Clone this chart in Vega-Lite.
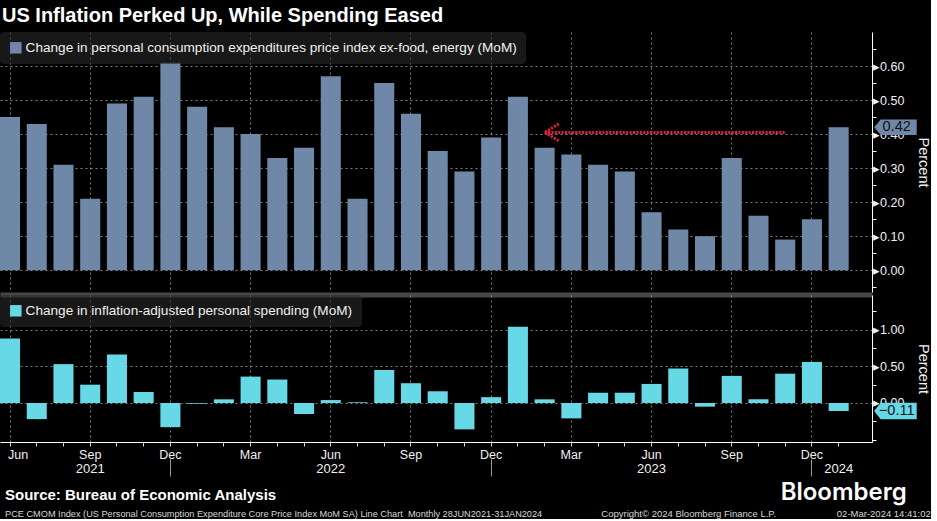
{
  "$schema": "https://vega.github.io/schema/vega-lite/v6.json",
  "background": "#000000",
  "padding": {"top": 6, "left": 0, "right": 0, "bottom": 0},
  "spacing": 0,
  "config": {
    "font": "Liberation Sans",
    "view": {"stroke": null},
    "axis": {"labelFont": "Liberation Sans", "titleFont": "Liberation Sans"},
    "legend": {
      "orient": "top-left",
      "offset": 0,
      "padding": 9,
      "fillColor": "rgba(40,40,40,0.6)",
      "cornerRadius": 4,
      "symbolType": "square",
      "symbolSize": 132,
      "symbolStrokeWidth": 0,
      "labelFont": "Liberation Sans",
      "labelFontSize": 13.6,
      "labelColor": "#f0f0f0",
      "labelLimit": 0,
      "labelOffset": 3
    }
  },
  "datasets": {
    "pce": [
      {"month": "2021-06", "value": 0.45},
      {"month": "2021-07", "value": 0.43},
      {"month": "2021-08", "value": 0.31},
      {"month": "2021-09", "value": 0.21},
      {"month": "2021-10", "value": 0.49},
      {"month": "2021-11", "value": 0.51},
      {"month": "2021-12", "value": 0.61},
      {"month": "2022-01", "value": 0.48},
      {"month": "2022-02", "value": 0.42},
      {"month": "2022-03", "value": 0.40},
      {"month": "2022-04", "value": 0.33},
      {"month": "2022-05", "value": 0.36},
      {"month": "2022-06", "value": 0.57},
      {"month": "2022-07", "value": 0.21},
      {"month": "2022-08", "value": 0.55},
      {"month": "2022-09", "value": 0.46},
      {"month": "2022-10", "value": 0.35},
      {"month": "2022-11", "value": 0.29},
      {"month": "2022-12", "value": 0.39},
      {"month": "2023-01", "value": 0.51},
      {"month": "2023-02", "value": 0.36},
      {"month": "2023-03", "value": 0.34},
      {"month": "2023-04", "value": 0.31},
      {"month": "2023-05", "value": 0.29},
      {"month": "2023-06", "value": 0.17},
      {"month": "2023-07", "value": 0.12},
      {"month": "2023-08", "value": 0.10},
      {"month": "2023-09", "value": 0.33},
      {"month": "2023-10", "value": 0.16},
      {"month": "2023-11", "value": 0.09},
      {"month": "2023-12", "value": 0.15},
      {"month": "2024-01", "value": 0.42}
    ],
    "spend": [
      {"month": "2021-06", "value": 0.88},
      {"month": "2021-07", "value": -0.22},
      {"month": "2021-08", "value": 0.53},
      {"month": "2021-09", "value": 0.25},
      {"month": "2021-10", "value": 0.66},
      {"month": "2021-11", "value": 0.15},
      {"month": "2021-12", "value": -0.33},
      {"month": "2022-01", "value": -0.01},
      {"month": "2022-02", "value": 0.05},
      {"month": "2022-03", "value": 0.36},
      {"month": "2022-04", "value": 0.32},
      {"month": "2022-05", "value": -0.15},
      {"month": "2022-06", "value": 0.04},
      {"month": "2022-07", "value": 0.01},
      {"month": "2022-08", "value": 0.45},
      {"month": "2022-09", "value": 0.27},
      {"month": "2022-10", "value": 0.16},
      {"month": "2022-11", "value": -0.36},
      {"month": "2022-12", "value": 0.08},
      {"month": "2023-01", "value": 1.04},
      {"month": "2023-02", "value": 0.05},
      {"month": "2023-03", "value": -0.21},
      {"month": "2023-04", "value": 0.14},
      {"month": "2023-05", "value": 0.14},
      {"month": "2023-06", "value": 0.26},
      {"month": "2023-07", "value": 0.47},
      {"month": "2023-08", "value": -0.05},
      {"month": "2023-09", "value": 0.37},
      {"month": "2023-10", "value": 0.05},
      {"month": "2023-11", "value": 0.40},
      {"month": "2023-12", "value": 0.56},
      {"month": "2024-01", "value": -0.11}
    ],
    "pointer": [
      {"from": "2023-02", "to": "2023-11", "level": 0.405}
    ]
  },
  "title": {
    "text": "Bloomberg\u00a0\u2800",
    "subtitle": "Copyright\u00a9 2024 Bloomberg Finance L.P.\u00a0\u00a0\u00a0\u00a0\u00a0\u00a0\u00a0\u00a0\u00a0\u00a0\u00a0\u00a0\u00a0\u00a0\u00a0\u00a0\u00a0\u00a0\u00a0\u00a0\u00a0\u00a0\u00a002-Mar-2024 14:41:02",
    "orient": "bottom",
    "anchor": "end",
    "frame": "bounds",
    "offset": -38,
    "font": "Inter",
    "fontSize": 24,
    "fontWeight": 600,
    "color": "#ffffff",
    "subtitleFont": "Liberation Sans",
    "subtitleFontSize": 9.5,
    "subtitleColor": "#d8d8d8",
    "subtitlePadding": 4
  },
  "resolve": {
    "scale": {"x": "independent", "y": "independent", "color": "independent"},
    "legend": {"color": "independent"}
  },
  "vconcat": [
    {
      "width": 872,
      "height": 260,
      "title": {
        "text": "US Inflation Perked Up, While Spending Eased",
        "anchor": "start",
        "frame": "group",
        "dx": 2,
        "offset": 6,
        "font": "Liberation Sans",
        "fontSize": 20,
        "fontWeight": "bold",
        "color": "#ffffff"
      },
      "data": {"name": "pce"},
      "layer": [
        {
          "mark": {"type": "bar"},
          "encoding": {
            "x": {
              "field": "month",
              "type": "ordinal",
              "scale": {"paddingInner": 0.25, "paddingOuter": 0.436, "align": 0},
              "axis": {
                "orient": "bottom",
                "title": null,
                "bandPosition": 0.5,
                "labels": false,
                "ticks": false,
                "domain": true,
                "domainColor": "#474747",
                "domainWidth": 5,
                "offset": 2.5,
                "grid": true,
                "gridColor": "#808080",
                "gridDash": [2, 3],
                "gridOpacity": {"condition": {"test": "indexof(['03','06','09','12'], slice(datum.value, 5)) >= 0", "value": 1}, "value": 0}
              }
            },
            "y": {
              "field": "value",
              "type": "quantitative",
              "scale": {"domain": [-0.064, 0.7], "nice": false, "zero": false},
              "axis": {
                "orient": "right",
                "title": "Percent",
                "values": [-0.05, 0, 0.05, 0.1, 0.15, 0.2, 0.25, 0.3, 0.35, 0.4, 0.45, 0.5, 0.55, 0.6, 0.65],
                "tickCount": 100,
                "domainColor": "#ffffff",
                "tickColor": "#ffffff",
                "tickSize": 4,
                "labelExpr": "indexof([0, 0.1, 0.2, 0.3, 0.4, 0.5, 0.6], datum.value) >= 0 ? '\u25b8' + format(datum.value, '.2f') : ''",
                "labelPadding": -3.5,
                "labelFontSize": 12.5,
                "labelColor": "#f0f0f0",
                "labelOverlap": false,
                "labelFlush": false,
                "titleFontSize": 14.5,
                "titleFontWeight": "normal",
                "titleColor": "#f0f0f0",
                "titlePadding": 12,
                "grid": true,
                "gridColor": "#808080",
                "gridDash": [2, 3],
                "gridOpacity": {"condition": {"test": "indexof([0, 0.1, 0.2, 0.3, 0.4, 0.5, 0.6], datum.value) >= 0", "value": 1}, "value": 0}
              }
            },
            "color": {
              "datum": "Change in personal consumption expenditures price index ex-food, energy (MoM)",
              "scale": {"range": ["#6f88a8"]},
              "legend": {"title": null}
            }
          }
        },
        {
          "data": {"name": "pointer"},
          "mark": {"type": "rule", "color": "#ec1c3c", "strokeWidth": 3, "strokeDash": [2, 1.4]},
          "encoding": {
            "x": {"field": "from", "type": "ordinal", "axis": {"title": null}},
            "x2": {"field": "to"},
            "y": {"field": "level", "type": "quantitative", "scale": {"domain": [-0.064, 0.7], "nice": false, "zero": false}}
          }
        },
        {
          "data": {"name": "pointer"},
          "mark": {"type": "point", "shape": "M 1.65 -1 L 0 0 L 1.65 1", "size": 289, "filled": false, "stroke": "#ec1c3c", "strokeWidth": 3, "strokeDash": [2, 1.4], "opacity": 1},
          "encoding": {
            "x": {"field": "from", "type": "ordinal", "axis": {"title": null}},
            "y": {"field": "level", "type": "quantitative", "scale": {"domain": [-0.064, 0.7], "nice": false, "zero": false}}
          }
        },
        {
          "transform": [{"filter": "datum.month == '2024-01'"}],
          "mark": {"type": "point", "shape": "M 3.55 0 L 4.2 -0.78 L 7.8 -0.78 L 7.8 0.78 L 4.2 0.78 Z", "size": 400, "filled": true, "fill": "#6f88a8", "opacity": 1, "strokeWidth": 0},
          "encoding": {
            "x": {"field": "month", "type": "ordinal", "axis": {"title": null}},
            "y": {"field": "value", "type": "quantitative", "scale": {"domain": [-0.064, 0.7], "nice": false, "zero": false}}
          }
        },
        {
          "transform": [{"filter": "datum.month == '2024-01'"}],
          "mark": {"type": "text", "dx": 58, "align": "center", "baseline": "middle", "fontSize": 14.5, "color": "#101018"},
          "encoding": {
            "x": {"field": "month", "type": "ordinal", "axis": {"title": null}},
            "y": {"field": "value", "type": "quantitative", "scale": {"domain": [-0.064, 0.7], "nice": false, "zero": false}},
            "text": {"field": "value", "type": "quantitative", "format": ".2f"}
          }
        }
      ]
    },
    {
      "width": 872,
      "height": 147,
      "title": {
        "text": "Source: Bureau of Economic Analysis",
        "subtitle": "PCE CMOM Index (US Personal Consumption Expenditure Core Price Index MoM SA) Line Chart\u00a0\u00a0Monthly 28JUN2021-31JAN2024",
        "orient": "bottom",
        "anchor": "start",
        "frame": "group",
        "dx": 5,
        "offset": 11,
        "font": "Liberation Sans",
        "fontSize": 15,
        "fontWeight": "bold",
        "color": "#ffffff",
        "subtitleFont": "Liberation Sans",
        "subtitleFontSize": 9.2,
        "subtitleColor": "#d8d8d8",
        "subtitlePadding": 7
      },
      "data": {"name": "spend"},
      "resolve": {"axis": {"x": "independent"}},
      "layer": [
        {
          "mark": {"type": "bar"},
          "encoding": {
            "x": {
              "field": "month",
              "type": "ordinal",
              "scale": {"paddingInner": 0.25, "paddingOuter": 0.436, "align": 0},
              "axis": {
                "orient": "bottom",
                "title": null,
                "bandPosition": 0.5,
                "domainColor": "#ffffff",
                "domainWidth": 1,
                "tickColor": "#d8d8d8",
                "tickSize": 4,
                "labelExpr": "indexof(['03','06','09','12'], slice(datum.value, 5)) >= 0 ? ['Jan','Feb','Mar','Apr','May','Jun','Jul','Aug','Sep','Oct','Nov','Dec'][toNumber(slice(datum.value, 5)) - 1] : ''",
                "labelAngle": 0,
                "labelFontSize": 12.5,
                "labelColor": "#f0f0f0",
                "labelPadding": 2,
                "labelOffset": {"condition": {"test": "datum.value == '2021-06'", "value": 8}, "value": 0},
                "labelOverlap": false,
                "grid": true,
                "gridColor": "#808080",
                "gridDash": [2, 3],
                "gridOpacity": {"condition": {"test": "indexof(['03','06','09','12'], slice(datum.value, 5)) >= 0", "value": 1}, "value": 0}
              }
            },
            "y": {
              "field": "value",
              "type": "quantitative",
              "scale": {"domain": [-0.532, 1.473], "nice": false, "zero": false},
              "axis": {
                "orient": "right",
                "title": "Percent",
                "values": [-0.5, -0.25, 0, 0.25, 0.5, 0.75, 1, 1.25],
                "tickCount": 100,
                "domainColor": "#ffffff",
                "tickColor": "#ffffff",
                "tickSize": 4,
                "labelExpr": "datum.value == 0 || datum.value == 0.5 || datum.value == 1 ? '\u25b8' + format(datum.value, '.2f') : ''",
                "labelPadding": -3.5,
                "labelFontSize": 12.5,
                "labelColor": "#f0f0f0",
                "labelOverlap": false,
                "labelFlush": false,
                "titleFontSize": 14.5,
                "titleFontWeight": "normal",
                "titleColor": "#f0f0f0",
                "titlePadding": 12,
                "grid": true,
                "gridColor": "#808080",
                "gridDash": [2, 3],
                "gridOpacity": {"condition": {"test": "datum.value == 0 || datum.value == 0.5 || datum.value == 1", "value": 1}, "value": 0}
              }
            },
            "color": {
              "datum": "Change in inflation-adjusted personal spending (MoM)",
              "scale": {"range": ["#66d8e6"]},
              "legend": {"title": null}
            }
          }
        },
        {
          "mark": {"type": "point", "opacity": 0},
          "encoding": {
            "x": {
              "field": "month",
              "type": "ordinal",
              "axis": {
                "orient": "bottom",
                "title": null,
                "bandPosition": 0.5,
                "offset": 17,
                "domain": false,
                "grid": false,
                "ticks": true,
                "tickSize": 17,
                "tickColor": "#9a9a9a",
                "tickOpacity": {"condition": {"test": "slice(datum.value, 5) == '12'", "value": 1}, "value": 0},
                "labelExpr": "indexof(['2021-09','2022-06','2023-06','2024-01'], datum.value) >= 0 ? slice(datum.value, 0, 4) : ''",
                "labelPadding": -14,
                "labelAngle": 0,
                "labelFontSize": 13,
                "labelColor": "#f0f0f0",
                "labelOverlap": false
              }
            },
            "y": {"field": "value", "type": "quantitative", "scale": {"domain": [-0.532, 1.473], "nice": false, "zero": false}}
          }
        },
        {
          "transform": [{"filter": "datum.month == '2024-01'"}],
          "mark": {"type": "point", "shape": "M 3.55 0 L 4.2 -0.82 L 7.8 -0.82 L 7.8 0.82 L 4.2 0.82 Z", "size": 400, "filled": true, "fill": "#66d8e6", "opacity": 1, "strokeWidth": 0},
          "encoding": {
            "x": {"field": "month", "type": "ordinal", "axis": null},
            "y": {"field": "value", "type": "quantitative", "scale": {"domain": [-0.532, 1.473], "nice": false, "zero": false}}
          }
        },
        {
          "transform": [{"filter": "datum.month == '2024-01'"}],
          "mark": {"type": "text", "dx": 58, "align": "center", "baseline": "middle", "fontSize": 14.5, "color": "#101018"},
          "encoding": {
            "x": {"field": "month", "type": "ordinal", "axis": null},
            "y": {"field": "value", "type": "quantitative", "scale": {"domain": [-0.532, 1.473], "nice": false, "zero": false}},
            "text": {"field": "value", "type": "quantitative", "format": ".2f"}
          }
        }
      ]
    }
  ]
}
